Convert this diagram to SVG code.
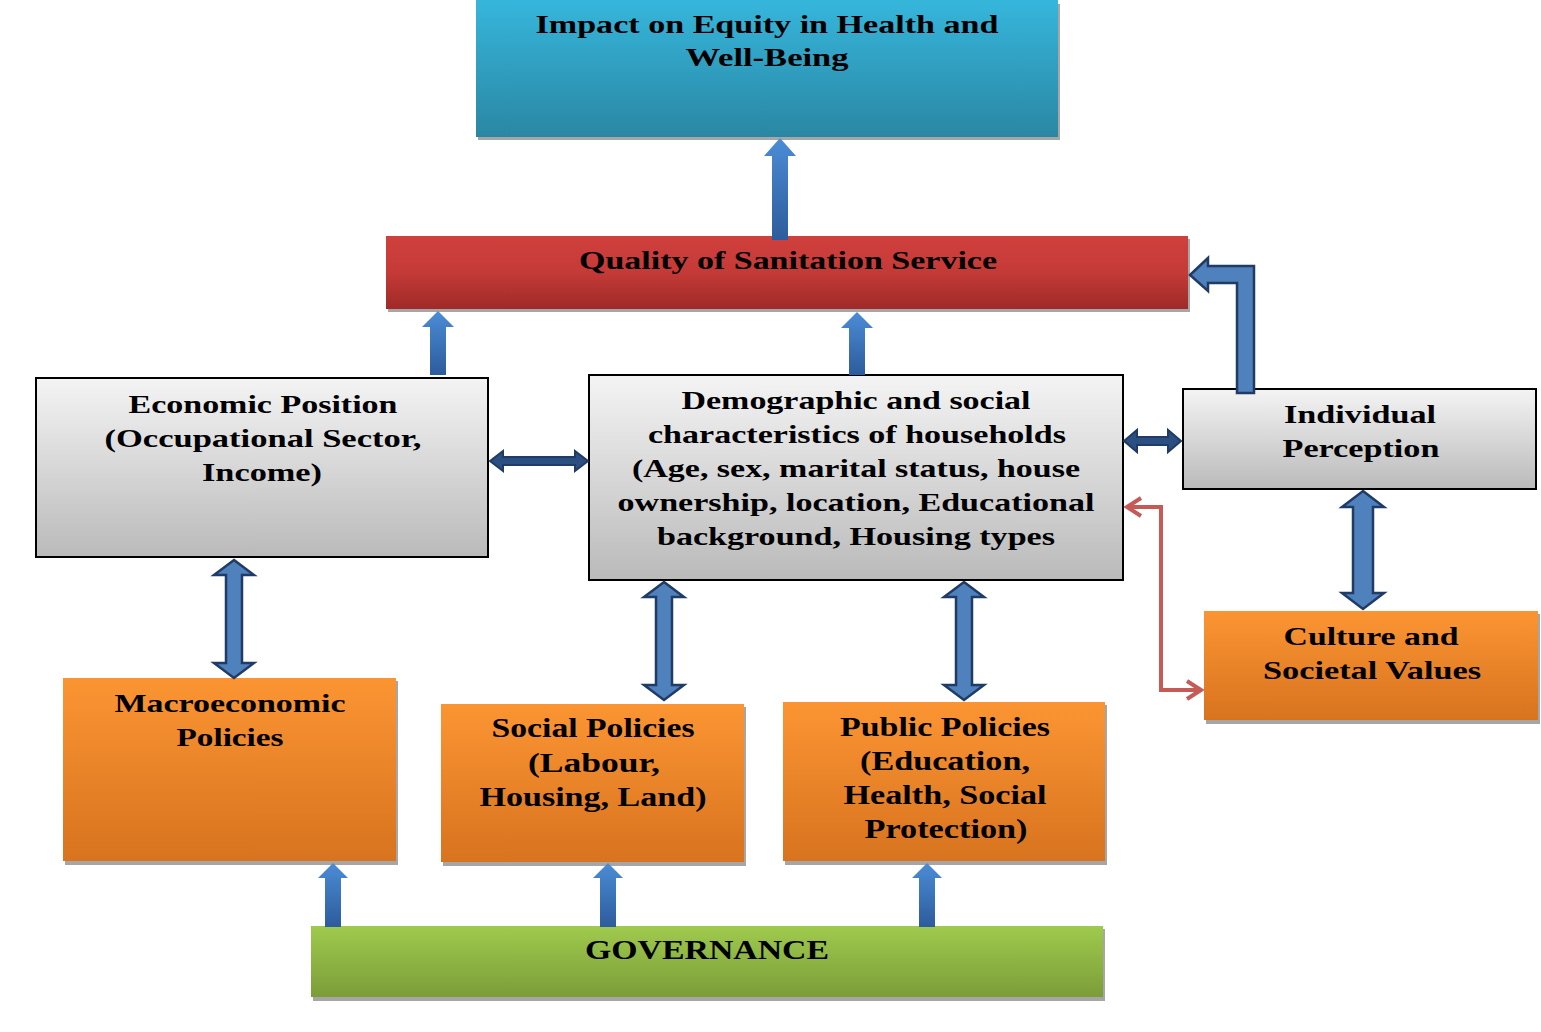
<svg xmlns="http://www.w3.org/2000/svg" width="1541" height="1032" viewBox="0 0 1541 1032">
<defs>
<linearGradient id="gTeal" x1="0" y1="0" x2="0" y2="1"><stop offset="0" stop-color="#36b6dc"/><stop offset="1" stop-color="#2a87a3"/></linearGradient>
<linearGradient id="gRed" x1="0" y1="0" x2="0" y2="1"><stop offset="0" stop-color="#d0403d"/><stop offset="0.5" stop-color="#c43a37"/><stop offset="1" stop-color="#9f2a28"/></linearGradient>
<linearGradient id="gGray" x1="0" y1="0" x2="0" y2="1"><stop offset="0" stop-color="#f4f4f4"/><stop offset="1" stop-color="#bababa"/></linearGradient>
<linearGradient id="gOrange" x1="0" y1="0" x2="0" y2="1"><stop offset="0" stop-color="#fb9533"/><stop offset="1" stop-color="#d8731f"/></linearGradient>
<linearGradient id="gGreen" x1="0" y1="0" x2="0" y2="1"><stop offset="0" stop-color="#9fca4d"/><stop offset="1" stop-color="#7b9d39"/></linearGradient>
<linearGradient id="gBlue" x1="0" y1="0" x2="0" y2="1"><stop offset="0" stop-color="#4b8cd6"/><stop offset="1" stop-color="#2d5c9c"/></linearGradient>
</defs>
<style>
text{font-family:"Liberation Serif","DejaVu Serif",serif;font-weight:bold;fill:#000;text-anchor:middle;}
.w{font-size:25px;}
.c{font-size:27px;}
.shadow{fill:#a6a6a6;}
.gbox{fill:url(#gGray);stroke:#000;stroke-width:2;}
.obox{fill:url(#gOrange);}
.up{fill:url(#gBlue);}
.dbl{fill:#4f81bd;stroke:#1f3b66;stroke-width:2.5;stroke-linejoin:miter;}
.hdbl{fill:#2c4f82;stroke:#1f3b66;stroke-width:2;stroke-linejoin:miter;}
.red{fill:none;stroke:#c55a57;stroke-width:4;stroke-linejoin:miter;}
</style>
<rect width="1541" height="1032" fill="#fff"/>

<g id="impact">
<rect class="shadow" x="478" y="4" width="582" height="136"/>
<rect x="476" y="0" width="582" height="137" fill="url(#gTeal)"/>
<text class="w" x="767" y="33" textLength="463" lengthAdjust="spacingAndGlyphs">Impact on Equity in Health and</text>
<text class="w" x="767" y="66" textLength="163" lengthAdjust="spacingAndGlyphs">Well-Being</text>
</g>

<g id="quality">
<rect class="shadow" x="388" y="239" width="802" height="73"/>
<rect x="386" y="236" width="802" height="73" fill="url(#gRed)"/>
<text class="w" x="788" y="269" textLength="418" lengthAdjust="spacingAndGlyphs">Quality of Sanitation Service</text>
</g>

<g id="economic">
<rect class="gbox" x="36" y="378" width="452" height="179"/>
<text class="w" x="263" y="413" textLength="269" lengthAdjust="spacingAndGlyphs">Economic Position</text>
<text class="w" x="263" y="447" textLength="317" lengthAdjust="spacingAndGlyphs">(Occupational Sector,</text>
<text class="w" x="262" y="481" textLength="120" lengthAdjust="spacingAndGlyphs">Income)</text>
</g>

<g id="demographic">
<rect class="gbox" x="589" y="375" width="534" height="205"/>
<text class="w" x="856" y="409" textLength="349" lengthAdjust="spacingAndGlyphs">Demographic and social</text>
<text class="w" x="857" y="443" textLength="418" lengthAdjust="spacingAndGlyphs">characteristics of households</text>
<text class="w" x="856" y="477" textLength="448" lengthAdjust="spacingAndGlyphs">(Age, sex, marital status, house</text>
<text class="w" x="856" y="511" textLength="477" lengthAdjust="spacingAndGlyphs">ownership, location, Educational</text>
<text class="w" x="856" y="545" textLength="398" lengthAdjust="spacingAndGlyphs">background, Housing types</text>
</g>

<g id="individual">
<rect class="gbox" x="1183" y="389" width="353" height="100"/>
<text class="w" x="1360" y="423" textLength="152" lengthAdjust="spacingAndGlyphs">Individual</text>
<text class="w" x="1361" y="457" textLength="157" lengthAdjust="spacingAndGlyphs">Perception</text>
</g>

<g id="culture">
<rect class="shadow" x="1206" y="614" width="334" height="110"/>
<rect class="obox" x="1204" y="611" width="334" height="109"/>
<text class="w" x="1371" y="645" textLength="175" lengthAdjust="spacingAndGlyphs">Culture and</text>
<text class="w" x="1372" y="679" textLength="218" lengthAdjust="spacingAndGlyphs">Societal Values</text>
</g>

<g id="macro">
<rect class="shadow" x="65" y="681" width="333" height="184"/>
<rect class="obox" x="63" y="678" width="333" height="183"/>
<text class="w" x="230" y="712" textLength="231" lengthAdjust="spacingAndGlyphs">Macroeconomic</text>
<text class="w" x="230" y="746" textLength="107" lengthAdjust="spacingAndGlyphs">Policies</text>
</g>

<g id="social">
<rect class="shadow" x="443" y="707" width="303" height="159"/>
<rect class="obox" x="441" y="704" width="303" height="158"/>
<text class="c" x="593" y="737" textLength="203" lengthAdjust="spacingAndGlyphs">Social Policies</text>
<text class="c" x="594" y="772" textLength="132" lengthAdjust="spacingAndGlyphs">(Labour,</text>
<text class="c" x="593" y="806" textLength="227" lengthAdjust="spacingAndGlyphs">Housing, Land)</text>
</g>

<g id="public">
<rect class="shadow" x="785" y="705" width="322" height="160"/>
<rect class="obox" x="783" y="702" width="322" height="159"/>
<text class="c" x="945" y="736" textLength="210" lengthAdjust="spacingAndGlyphs">Public Policies</text>
<text class="c" x="945" y="770" textLength="170" lengthAdjust="spacingAndGlyphs">(Education,</text>
<text class="c" x="945" y="804" textLength="203" lengthAdjust="spacingAndGlyphs">Health, Social</text>
<text class="c" x="946" y="838" textLength="163" lengthAdjust="spacingAndGlyphs">Protection)</text>
</g>

<g id="governance">
<rect class="shadow" x="313" y="929" width="792" height="72"/>
<rect x="311" y="926" width="792" height="71" fill="url(#gGreen)"/>
<text class="c" x="707" y="959" textLength="244" lengthAdjust="spacingAndGlyphs">GOVERNANCE</text>
</g>

<g id="connectors">
<path class="up" d="M780,138 L796,156 L788,156 L788,240 L772,240 L772,156 L764,156 Z"/>
<path class="up" d="M438,311 L454,327 L446,327 L446,375 L430,375 L430,327 L422,327 Z"/>
<path class="up" d="M857,312 L873,328 L865,328 L865,375 L849,375 L849,328 L841,328 Z"/>
<path class="up" d="M333,863 L348,878 L341,878 L341,927 L325,927 L325,878 L318,878 Z"/>
<path class="up" d="M608,863 L623,878 L616,878 L616,927 L600,927 L600,878 L593,878 Z"/>
<path class="up" d="M927,863 L942,878 L935,878 L935,927 L919,927 L919,878 L912,878 Z"/>
<path class="dbl" d="M234,560 L254,575 L242,575 L242,663 L254,663 L234,678 L214,663 L226,663 L226,575 L214,575 Z"/>
<path class="dbl" d="M664,582 L684,597 L672,597 L672,685 L684,685 L664,700 L644,685 L656,685 L656,597 L644,597 Z"/>
<path class="dbl" d="M964,582 L984,597 L972,597 L972,685 L984,685 L964,700 L944,685 L956,685 L956,597 L944,597 Z"/>
<path class="dbl" d="M1363,491 L1384,507 L1373,507 L1373,593 L1384,593 L1363,609 L1342,593 L1353,593 L1353,507 L1342,507 Z"/>
<path class="hdbl" d="M490,461 L503,451 L503,457 L575,457 L575,451 L588,461 L575,471 L575,465 L503,465 L503,471 Z"/>
<path class="hdbl" d="M1124,441 L1137,430 L1137,437 L1168,437 L1168,430 L1181,441 L1168,452 L1168,445 L1137,445 L1137,452 Z"/>
<path class="dbl" d="M1190,275 L1208,258 L1208,266 L1254,266 L1254,393 L1237,393 L1237,283 L1208,283 L1208,291 Z"/>
<path class="red" d="M1128,507 L1161,507 L1161,690 L1199,690"/>
<polyline class="red" points="1141,498 1127,507 1141,516"/>
<polyline class="red" points="1187,681 1201,690 1187,699"/>
</g>
</svg>
